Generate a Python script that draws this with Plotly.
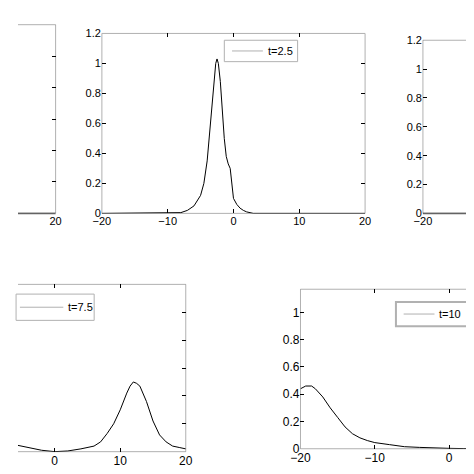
import plotly.graph_objects as go

# top-left panel (only its right edge is in view)
x_tl = [14.3, 20]
y_tl = [0, 0]

# t=2.5
x_25 = [-20, -10, -8, -7, -6, -5, -4.5, -4, -3.5, -3, -2.7, -2.5, -2.3, -2, -1.7, -1.4, -1.1, -0.8, -0.5, -0.2, 0, 0.5, 1, 1.5, 2, 3, 10, 20]
y_25 = [0, 0, 0.005, 0.02, 0.05, 0.12, 0.2, 0.35, 0.6, 0.88, 1.0, 1.03, 1.0, 0.88, 0.68, 0.5, 0.38, 0.33, 0.3, 0.2, 0.1, 0.06, 0.035, 0.02, 0.01, 0, 0, 0]

# top-right panel (cut off)
x_tr = [-20, -12.1]
y_tr = [0, 0]

# t=7.5
x_75 = [-5.6, -4, -3, -2, 0, 2, 4, 6, 7, 8, 9, 10, 11, 11.5, 12, 12.5, 13, 14, 15, 16, 17, 18, 19, 20]
y_75 = [0.045, 0.03, 0.02, 0.01, 0.0, 0.005, 0.02, 0.04, 0.07, 0.13, 0.2, 0.3, 0.42, 0.47, 0.5, 0.49, 0.47, 0.36, 0.22, 0.12, 0.07, 0.04, 0.03, 0.02]

# t=10
x_10 = [-20, -19.3, -18.5, -18, -17, -16, -15, -14, -13, -12, -11, -10, -8, -6, -4, -2, 0, 2, 3.5]
y_10 = [0.44, 0.46, 0.46, 0.44, 0.38, 0.3, 0.23, 0.16, 0.11, 0.08, 0.06, 0.045, 0.03, 0.015, 0.01, 0.005, 0.003, 0.001, 0]

W = 474
def px(v):
    return v / W
def py(v):
    return 1 - v / W

fig = go.Figure()
panels = [
    (x_tl, y_tl, "x", "y"),
    (x_25, y_25, "x2", "y2"),
    (x_tr, y_tr, "x3", "y3"),
    (x_75, y_75, "x4", "y4"),
    (x_10, y_10, "x5", "y5"),
]
for xs, ys, xa, ya in panels:
    fig.add_trace(go.Scatter(x=xs, y=ys, xaxis=xa, yaxis=ya, mode="lines",
                             line=dict(color="black", width=1), showlegend=False))

f11 = dict(family="Liberation Sans", size=11, color="black")
f12 = dict(family="Liberation Sans", size=12, color="black")
ax = dict(showgrid=False, zeroline=False, showline=False, ticks="inside", ticklen=4,
          tickcolor="black", tickfont=f11)
yt12 = [0, 0.2, 0.4, 0.6, 0.8, 1, 1.2]
yl12 = ["0", "0.2", "0.4", "0.6", "0.8", "1", "1.2"]

fig.update_layout(
    width=W, height=W, margin=dict(l=0, r=0, t=0, b=0),
    template="simple_white",
    plot_bgcolor="white", paper_bgcolor="white",
    xaxis=dict(ax, domain=[0, px(39)], range=[14.3, 20], tickvals=[20], anchor="y", mirror="ticks"),
    yaxis=dict(ax, domain=[py(205), py(11)], range=[0, 1.2], tickvals=yt12,
               side="right", showticklabels=False, anchor="x"),
    xaxis2=dict(ax, domain=[px(87), px(360)], range=[-20, 20], tickvals=[-20, -10, 0, 10, 20], anchor="y2", mirror="ticks"),
    yaxis2=dict(ax, domain=[py(205), py(20)], range=[0, 1.2], tickvals=yt12, ticktext=yl12,
                anchor="x2", mirror="ticks"),
    xaxis3=dict(ax, domain=[px(420), 1], range=[-20, -12.1], tickvals=[-20], anchor="y3", mirror="ticks"),
    yaxis3=dict(ax, domain=[py(205), py(27)], range=[0, 1.2], tickvals=yt12, ticktext=yl12, anchor="x3"),
    xaxis4=dict(ax, domain=[0, px(174)], range=[-5.6, 20], tickvals=[0, 10, 20], anchor="y4", mirror="ticks",
                tickfont=f12),
    yaxis4=dict(ax, domain=[py(450), py(278)], range=[0, 1.2], tickvals=yt12,
                side="right", showticklabels=False, anchor="x4"),
    xaxis5=dict(ax, domain=[px(293), 1], range=[-20, 3.5], tickvals=[-20, -10, 0], anchor="y5", mirror="ticks",
                tickfont=f12),
    yaxis5=dict(ax, domain=[py(447), py(283)], range=[0, 1.17], tickvals=yt12[:6], ticktext=yl12[:6],
                anchor="x5", tickfont=f12),
)

# panel frames (only the visible edges)
def seg(x0, y0, x1, y1, w=1):
    fig.add_shape(type="line", xref="paper", yref="paper", x0=px(x0), y0=py(y0), x1=px(x1), y1=py(y1),
                  line=dict(color="black", width=w))

def box(x0, y0, x1, y1, w=1, fill="rgba(0,0,0,0)"):
    fig.add_shape(type="rect", xref="paper", yref="paper", x0=px(x0), y0=py(y0), x1=px(x1), y1=py(y1),
                  line=dict(color="black", width=w), fillcolor=fill)

seg(0, 11, 39, 11); seg(39, 11, 39, 205); seg(0, 205, 39, 205, 2)
box(87, 20, 360, 205)
seg(420, 27, 474, 27); seg(420, 27, 420, 205); seg(420, 205, 474, 205, 2)
seg(0, 278, 174, 278); seg(174, 278, 174, 450); seg(0, 450, 174, 450)
seg(293, 283, 474, 283); seg(293, 283, 293, 447); seg(293, 447, 474, 447)

# legends
legends = [(214, 27, 290, 49, "t=2.5", 1), (-2, 288, 79, 315, "t=7.5", 1), (392, 296, 480, 321, "t=10", 2)]
for x0, y0, x1, y1, label, w in legends:
    box(x0, y0, x1, y1, w, "white")
    ym = (y0 + y1) / 2
    lx0 = x0 + 8 if x0 > 0 else 2
    lx1 = x0 + 40 if x0 > 0 else 47
    seg(lx0, ym, lx1, ym)
    fig.add_annotation(xref="paper", yref="paper", x=px(lx1 + 3), y=py(ym),
                       text=label, showarrow=False, xanchor="left", yanchor="middle",
                       font=f11)

fig.write_html("out.html")
